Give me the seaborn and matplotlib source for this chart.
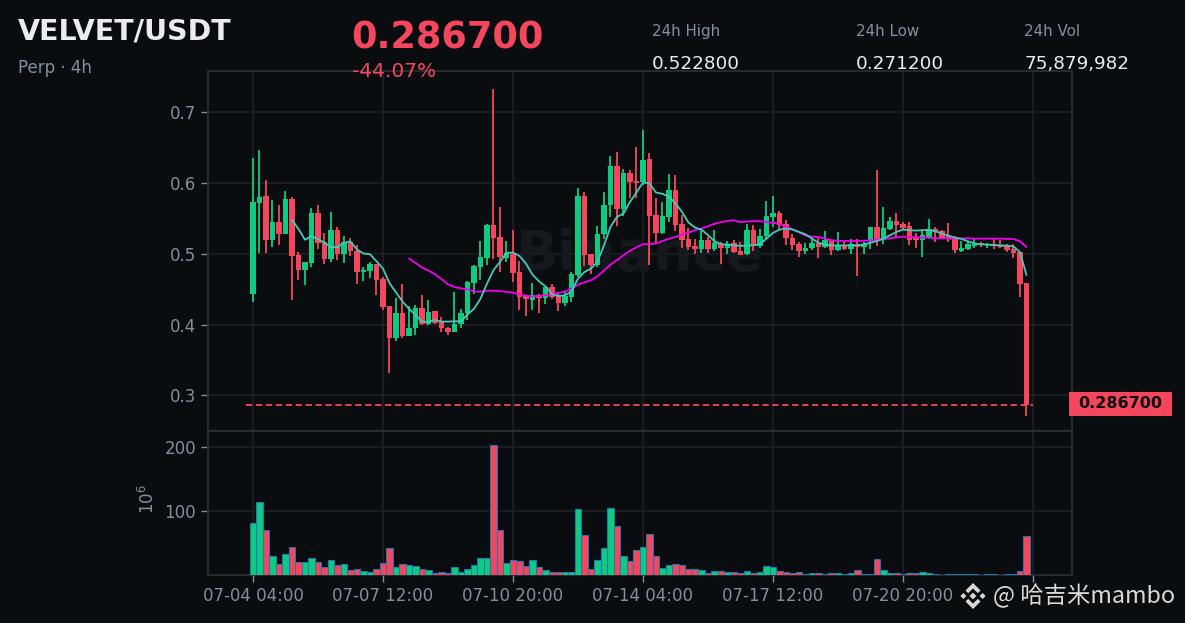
import pandas as pd
import numpy as np
import matplotlib
matplotlib.use('Agg')
import matplotlib.pyplot as plt
from matplotlib.patches import Polygon
import seaborn as sns

# candle data (4h candles, 07-04 04:00 onwards)
opens = [.4431, .5725, .5820, .5199, .5450, .5284, .5777, .4981, .4768, .4872,
         .5578, .5170, .4929, .5336, .5000, .5170, .5043, .4744, .4758, .4853,
         .4640, .4256, .3805, .4170, .3834, .3948, .4241, .4004, .4199, .4033,
         .3957, .3891, .4004, .4161, .4587, .4815, .4942, .5405, .5235, .4947,
         .5003, .4739, .4404, .4347, .4418, .4380, .4531, .4409, .4300, .4390,
         .4706, .5815, .4994, .4838, .5277, .5688, .6240, .5631, .6141, .6028,
         .6009, .6339, .5546, .5296, .5523, .5900, .5419, .5206, .5107, .5070,
         .5192, .5065, .5140, .5084, .5154, .5036, .4994, .5334, .5105, .5248,
         .5524, .5572, .5419, .5229, .5134, .5034, .5077, .5157, .5096, .5191,
         .5048, .5105, .5062, .5134, .5096, .5191, .5376, .5191, .5353, .5462,
         .5419, .5391, .5224, .5200, .5238, .5348, .5319, .5248, .5229, .5043,
         .5062, .5115, .5153, .5124, .5143, .5124, .5105, .5062, .5019, .4587]
closes = [.5735, .5806, .5199, .5450, .5284, .5777, .4971, .4772, .4886, .5578,
          .5156, .4929, .5336, .5000, .5170, .5043, .4744, .4768, .4853, .4630,
          .4246, .3805, .4170, .3834, .3957, .4241, .4004, .4180, .4023, .3948,
          .3891, .4009, .4170, .4597, .4824, .4952, .5405, .5225, .4951, .5013,
          .4730, .4390, .4362, .4413, .4380, .4531, .4385, .4305, .4409, .4711,
          .5815, .4980, .4838, .5287, .5697, .6240, .5631, .6141, .6014, .5995,
          .6325, .5537, .5296, .5532, .5900, .5405, .5192, .5093, .5070, .5192,
          .5065, .5154, .5088, .5145, .5027, .4989, .5334, .5131, .5257, .5534,
          .5581, .5405, .5219, .5124, .5034, .5086, .5157, .5091, .5200, .5053,
          .5105, .5062, .5134, .5096, .5143, .5376, .5191, .5362, .5462, .5405,
          .5367, .5200, .5191, .5262, .5348, .5310, .5229, .5229, .5048, .5077,
          .5134, .5134, .5124, .5143, .5110, .5096, .5048, .5005, .4568, .2867]
highs = [.6356, .6465, .6038, .5754, .5697, .5886, .5801, .5019, .4886, .5654,
         .5697, .5298, .5597, .5384, .5251, .5218, .5128, .4820, .4886, .4853,
         .4673, .4256, .4374, .4573, .4260, .4275, .4422, .4350, .4199, .4113,
         .3962, .4460, .4222, .4616, .4848, .5185, .5428, .7330, .5664, .5183,
         .5343, .4900, .4413, .4588, .4437, .4531, .4579, .4461, .4461, .4744,
         .5933, .5877, .4994, .5395, .5867, .6377, .6443, .6193, .6179, .6504,
         .6755, .6429, .5782, .5726, .6132, .6108, .5546, .5367, .5206, .5348,
         .5239, .5343, .5169, .5187, .5192, .5169, .5428, .5405, .5357, .5752,
         .5824, .5610, .5476, .5276, .5167, .5153, .5229, .5229, .5324, .5200,
         .5310, .5167, .5210, .5210, .5167, .5376, .6181, .5667, .5514, .5572,
         .5453, .5453, .5296, .5324, .5486, .5381, .5334, .5438, .5248, .5181,
         .5167, .5229, .5167, .5157, .5224, .5191, .5134, .5138, .5019, .4587]
lows = [.4317, .5014, .5005, .5090, .5128, .5284, .4350, .4635, .4564, .4815,
        .5071, .4862, .4886, .4919, .4877, .4976, .4578, .4621, .4663, .4422,
        .4208, .3312, .3767, .3810, .3834, .3853, .3990, .3990, .4009, .3891,
        .3853, .3891, .3952, .4066, .4436, .4635, .4838, .4933, .4744, .4885,
        .4602, .4210, .4116, .4201, .4168, .4286, .4366, .4187, .4258, .4319,
        .4673, .4824, .4720, .4815, .5216, .5523, .5395, .5537, .5792, .5782,
        .5971, .4848, .5159, .5287, .5452, .5329, .5084, .5055, .5003, .5018,
        .5018, .5046, .4857, .5003, .5018, .4980, .4980, .5041, .5086, .5215,
        .5381, .5357, .5119, .5057, .4953, .5000, .5057, .4943, .5081, .4981,
        .5038, .5057, .5000, .4686, .5000, .5072, .5110, .5143, .5334, .5238,
        .5334, .5119, .5086, .4953, .5215, .5167, .5215, .5167, .5010, .5029,
        .5048, .5086, .5096, .5077, .5067, .5081, .5029, .4943, .4396, .2712]
volumes = [81.5, 114, 71, 32, 18.5, 34, 45, 21.5, 21.5, 28,
           21.5, 14, 25, 17, 18.5, 10, 12, 8.5, 7, 12,
           20, 43, 14, 18.5, 17, 15.5, 12, 10, 4.5, 7,
           4.5, 14, 6, 12, 17, 28, 28, 203, 71, 20,
           25, 23, 15.5, 25, 14, 10, 7, 7, 6, 7,
           103, 63, 12, 25, 43, 106, 78, 32, 23, 40,
           44.6, 64.6, 30.6, 13, 17, 18.5, 17, 11, 11, 9.6,
           5, 8, 8, 6.5, 6.5, 5, 8, 5, 6.5, 15.4,
           14, 8, 6.5, 5, 6.5, 3, 5, 5, 3, 5,
           5, 3, 5, 9, 3, 3, 27, 9, 5, 5,
           3, 5, 5, 6.5, 5, 3, 2, 3, 3, 3,
           3, 3, 2, 3, 3, 2, 3, 3, 8, 61.5]
# moving averages as drawn, blanks where the line has not started
ma_short = [np.nan] * 6 + [
    .5479, .5351, .5199, .5251, .5208, .5156, .5095, .5095, .5156, .5175,
    .5061, .5005, .4995, .4896, .4791, .4587, .4455, .4327, .4223, .4137,
    .4042, .4038, .4066, .4042, .4042, .4047, .4047, .4142, .4223, .4365,
    .4578, .4768, .4886, .5013, .5018, .4970, .4862, .4706, .4612, .4541,
    .4428, .4404, .4413, .4470, .4649, .4744, .4791, .4885, .5121, .5381,
    .5523, .5570, .5735, .5867, .6009, .5995, .5867, .5848, .5806, .5711,
    .5593, .5442, .5372, .5343, .5263, .5178, .5136, .5131, .5121, .5112,
    .5117, .5121, .5136, .5215, .5296, .5343, .5357, .5343, .5310, .5276,
    .5215, .5157, .5129, .5119, .5119, .5119, .5119, .5119, .5134, .5157,
    .5181, .5215, .5262, .5310, .5343, .5334, .5329, .5334, .5338, .5319,
    .5286, .5257, .5229, .5210, .5176, .5148, .5134, .5129, .5124, .5119,
    .5115, .5105, .5024, .4700]
ma_long = [np.nan] * 24 + [
    .4933, .4872, .4806, .4763, .4711, .4644, .4569, .4531, .4512, .4497,
    .4469, .4464, .4478, .4478, .4474, .4461, .4451, .4428, .4409, .4399,
    .4404, .4418, .4432, .4446, .4465, .4508, .4564, .4597, .4626, .4682,
    .4763, .4848, .4909, .4980, .5041, .5093, .5136, .5136, .5145, .5183,
    .5211, .5239, .5272, .5301, .5334, .5357, .5390, .5424, .5447, .5466,
    .5475, .5447, .5457, .5461, .5461, .5448, .5438, .5424, .5386, .5348,
    .5305, .5257, .5243, .5238, .5215, .5191, .5186, .5181, .5181, .5181,
    .5186, .5191, .5200, .5210, .5219, .5234, .5243, .5238, .5234, .5229,
    .5229, .5219, .5219, .5219, .5219, .5219, .5219, .5215, .5215, .5215,
    .5215, .5215, .5210, .5210, .5176, .5096]
tick_labels = ['07-04 04:00', '07-07 12:00', '07-10 20:00', '07-14 04:00',
               '07-17 12:00', '07-20 20:00', '']
last_price = 0.2867

BG = '#0a0d10'
GRID = '#1d2125'
SPINE = '#2b2f34'
MUTED = '#848e9c'
GREEN = '#0ecb81'
RED = '#f6465d'

df = pd.DataFrame({'open': opens, 'close': closes, 'high': highs, 'low': lows,
                   'volume': volumes, 'ma_short': ma_short, 'ma_long': ma_long})
df['i'] = df.index
df['up'] = df['close'] >= df['open']

sns.set_theme(style='dark', rc={'axes.facecolor': BG, 'figure.facecolor': BG,
                                'axes.edgecolor': SPINE, 'grid.color': GRID})
plt.rcParams['font.family'] = ['DejaVu Sans']

W, H = 1185, 623
fig = plt.figure(figsize=(W / 100, H / 100), dpi=100)
ax = fig.add_axes([208 / W, 1 - 431 / H, 864 / W, 360 / H])
ax_vol = fig.add_axes([208 / W, 1 - 575 / H, 864 / W, 144 / H], sharex=ax)

ticks = np.arange(0, 121, 20)

# candles
colors = df['up'].map({True: GREEN, False: RED})
ax.vlines(df['i'], df['low'], df['high'], colors=colors, linewidth=1.3, zorder=3)
ax.bar(df['i'], (df['close'] - df['open']).abs(), bottom=df[['open', 'close']].min(axis=1),
       width=0.82, color=colors, linewidth=0, zorder=4)
sns.lineplot(data=df, x='i', y='ma_long', color='#f000f0', linewidth=1.3, ax=ax, zorder=5)
sns.lineplot(data=df, x='i', y='ma_short', color='#45c9b8', linewidth=1.3, ax=ax, zorder=6)
ax.hlines(last_price, -1, 120, colors=RED, linestyles=(0, (3.5, 2)), linewidth=1.3, zorder=6)

ax.set_xlim(-6.92, 126)
ax.set_ylim(0.2496, 0.7584)
ax.set_yticks([0.3, 0.4, 0.5, 0.6, 0.7])
ax.set_xticks(ticks)
ax.set_xlabel('')
ax.set_ylabel('')
ax.tick_params(axis='x', length=0, labelbottom=False)
ax.tick_params(axis='y', length=5, width=1, color=MUTED, labelcolor=MUTED, labelsize=12, left=True)
ax.grid(True, color=GRID, linewidth=1.2)
ax.set_axisbelow(True)
ax.text(0.5, 0.49, 'Binance', transform=ax.transAxes, ha='center', va='center',
        fontsize=40, fontweight='bold', color='#15181c', zorder=1)

# volume
sns.barplot(data=df, x='i', y='volume', hue='up', palette={True: GREEN, False: RED},
            dodge=False, native_scale=True, width=0.95, edgecolor='#1f77b4', linewidth=0.75,
            saturation=1, legend=False, ax=ax_vol, zorder=3)
ax_vol.set_xlim(-6.92, 126)
ax_vol.set_ylim(2, 224)
ax_vol.set_yticks([100, 200])
ax_vol.set_xticks(ticks)
ax_vol.set_xticklabels(tick_labels)
ax_vol.set_xlabel('')
ax_vol.set_ylabel('')
ax_vol.tick_params(axis='x', length=5, width=1, color=MUTED, labelcolor=MUTED, labelsize=12, bottom=True)
ax_vol.tick_params(axis='y', length=5, width=1, color=MUTED, labelcolor=MUTED, labelsize=12, left=True)
ax_vol.grid(True, color=GRID, linewidth=1.2)
ax_vol.set_axisbelow(True)


def put(x, y, s, **kw):
    fig.text(x / W, 1 - y / H, s, va='center', **kw)


put(18, 31, 'VELVET/USDT', fontsize=20.5, fontweight='bold', color='#eaecef')
put(18, 68, 'Perp · 4h', fontsize=12, color=MUTED)
put(351.5, 38, '0.286700', fontsize=26.4, fontweight='bold', color=RED)
put(352, 71.5, '-44.07%', fontsize=14.5, color=RED)
for x, head, val in [(652, '24h High', '0.522800'), (856, '24h Low', '0.271200'),
                     (1024, '24h Vol', '75,879,982')]:
    put(x, 31.5, head, fontsize=10.8, color=MUTED)
    put(x, 64, val, fontsize=13.2, color='#eaecef')
put(147.5, 499, '$10^{6}$', fontsize=12, color=MUTED, rotation=90, ha='center')

# last price badge, sits over the right spine
fig.add_artist(Polygon([(1069 / W, 1 - 392 / H), (1172 / W, 1 - 392 / H),
                        (1172 / W, 1 - 416 / H), (1069 / W, 1 - 416 / H)],
                       transform=fig.transFigure, facecolor=RED, edgecolor='none', zorder=10))
fig.text(1120.5 / W, 1 - 404 / H, '0.286700', ha='center', va='center', fontsize=11.5,
         fontweight='bold', color='#0a0d10', zorder=11)

# binance mark and author tag bottom right
mark = '#d9d9d9'
cx, cy = 973, 596
shapes = [
    [(0, -13), (7.5, -5.5), (4.8, -2.8), (0, -7.6), (-4.8, -2.8), (-7.5, -5.5)],
    [(0, 13), (7.5, 5.5), (4.8, 2.8), (0, 7.6), (-4.8, 2.8), (-7.5, 5.5)],
    [(0, -3.4), (3.4, 0), (0, 3.4), (-3.4, 0)],
    [(-9.6, -3), (-6.6, 0), (-9.6, 3), (-12.6, 0)],
    [(9.6, -3), (12.6, 0), (9.6, 3), (6.6, 0)],
]
for pts in shapes:
    fig.add_artist(Polygon([((cx + a) / W, 1 - (cy + b) / H) for a, b in pts],
                           transform=fig.transFigure, facecolor=mark, edgecolor='none'))
fig.text(993 / W, 1 - 596 / H, '@ 哈吉米mambo', va='center', fontsize=16.8, color=mark,
         family=['Noto Sans CJK SC', 'DejaVu Sans'])

fig.savefig('out.png', dpi=100, facecolor=BG)
